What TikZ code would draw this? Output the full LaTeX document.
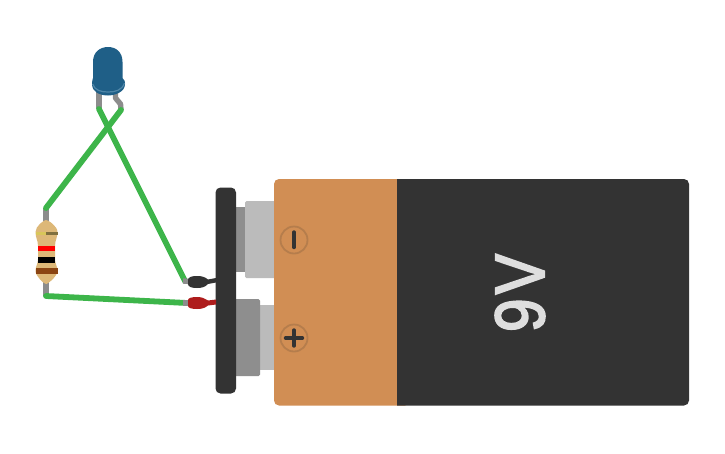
\documentclass[tikz,border=0pt]{standalone}
\usepackage{fontspec}
\setmainfont{Liberation Sans}
\newfontfamily\voltfont[FakeBold=3]{Liberation Sans}
\definecolor{wiregreen}{HTML}{3DB54A}
\definecolor{legrey}{HTML}{8C8C8C}
\definecolor{ledblue}{HTML}{1F5F87}
\definecolor{ledlight}{HTML}{4F86A8}
\definecolor{resbody}{HTML}{DDB878}
\definecolor{batorange}{HTML}{D18E54}
\definecolor{batdark}{HTML}{333333}
\definecolor{termlight}{HTML}{BBBBBB}
\definecolor{termdark}{HTML}{8E8E8E}
\definecolor{iconring}{HTML}{B57D4C}
\definecolor{plugred}{HTML}{AE1C1C}
\definecolor{bandyellow}{HTML}{D8C65A}
\definecolor{bandolive}{HTML}{80703F}
\definecolor{bandbrown}{HTML}{8B4513}
\tikzset{
  wirestyle/.style={wiregreen,line width=5.8pt,line cap=round,line join=round},
  legstyle/.style={legrey,line width=5.4pt,line join=round},
  iconstroke/.style={batdark,line width=3.4pt,line cap=round},
  ringstyle/.style={iconring,line width=1.8pt},
}
\begin{document}
\begin{tikzpicture}[x=1pt,y=-1pt]
\useasboundingbox (0,0) rectangle (725,453);
\fill[white] (0,0) rectangle (725,453);
% named anchor points
\coordinate (legA) at (99,109);
\coordinate (legC) at (121,110);
\coordinate (resT) at (46,208);
\coordinate (resB) at (46,296);
\coordinate (plugK) at (185,281);
\coordinate (plugP) at (187,303);
% LED legs
\draw[legstyle] (99,92) -- (legA);
\draw[legstyle] (115.5,92) -- (115.5,98) -- (120.5,104) -- (legC);
% LED body
\fill[ledblue] (93,62) .. controls (93,52) and (100,47) .. (108,47) .. controls (116,47) and (122.5,52) .. (122.5,62)
  -- (122.5,78) .. controls (125,80) and (125,82) .. (125,84)
  .. controls (125,92) and (115,95.5) .. (108,95.5) .. controls (100,95.5) and (92,92) .. (92,84) .. controls (92,81) and (92.5,80) .. (93,78) -- cycle;
\draw[ledlight,line width=1.2pt] (92.6,84) .. controls (95,90.5) and (101,92) .. (108,92) .. controls (115,92) and (122,90.5) .. (124.5,83);
% resistor
\draw[legstyle] (resT) -- (46,224);
\draw[legstyle] (46,280) -- (resB);
\fill[resbody] (46,220) .. controls (48,220) and (57.5,226) .. (57.5,232) .. controls (57.5,238) and (55,240) .. (55,246)
  -- (55,259) .. controls (55,264) and (57.5,266) .. (57.5,271) .. controls (57.5,276) and (48,284) .. (46,284)
  .. controls (44,284) and (35.5,276) .. (35.5,271) .. controls (35.5,266) and (38,264) .. (38,259)
  -- (38,246) .. controls (38,240) and (35.5,238) .. (35.5,232) .. controls (35.5,226) and (44,220) .. (46,220) -- cycle;
\fill[bandyellow] (35.5,231.5) rectangle (46,234.5);
\fill[bandolive] (46,231.5) rectangle (57.5,234.5);
\fill[red] (38,245.5) rectangle (55,251);
\fill[black] (38,257) rectangle (55,263);
\fill[bandbrown] (35.5,268) rectangle (57.5,274);
% wires
\draw[wirestyle] (legC) -- (resT);
\draw[wirestyle] (legA) -- (plugK);
\draw[wirestyle] (resB) -- (plugP);
% plug tips
\draw[legstyle] (183,281) -- (190,281.5);
\draw[legstyle] (183,303) -- (190,303);
% terminals
\fill[termdark] (236,207) rectangle (246,272);
\fill[termlight,rounded corners=1.5pt] (245,201) rectangle (280,278);
\fill[termlight] (258,305) rectangle (280,370);
\fill[termdark,rounded corners=1.5pt] (232,299) rectangle (260,376);
% battery
\fill[batorange,rounded corners=5pt] (274,179) rectangle (410,405.5);
\fill[batdark] (397,179) -- (684,179) arc[start angle=90,end angle=0,radius=5pt] -- (689,400.5)
  arc[start angle=0,end angle=-90,radius=5pt] -- (397,405.5) -- cycle;
% plate
\fill[batdark,rounded corners=5pt] (215.5,187.5) rectangle (236,393.5);
% plugs
\fill[batdark] (188,280) .. controls (188,277) and (192,276) .. (197,276) .. controls (202,276) and (205,277) .. (208,279.5)
  -- (216,278) -- (216,282.5) -- (208,284) .. controls (205,287) and (202,288) .. (197,288) .. controls (192,288) and (188,287) .. (188,284) -- cycle;
\fill[plugred] (188,300) .. controls (188,298) and (192,297) .. (197,297) .. controls (202,297) and (205,298.5) .. (208,300.5)
  -- (216,299.5) -- (216,304.5) -- (208,305.5) .. controls (205,308) and (202,309) .. (197,309) .. controls (192,309) and (188,308) .. (188,306) -- cycle;
% icons
\draw[ringstyle] (294,240) circle (13.5);
\draw[ringstyle] (294,338) circle (13.5);
\draw[iconstroke] (294,232) -- (294,247.5);
\draw[iconstroke] (294,330) -- (294,346);
\draw[iconstroke] (285.5,338) -- (302.5,338);
% label
\node[rotate=90,inner sep=0pt,text=black!13,xscale=.86] (volt) at (520,293) {\fontsize{70}{70}\voltfont 9\kern5pt V};
\end{tikzpicture}
\end{document}
